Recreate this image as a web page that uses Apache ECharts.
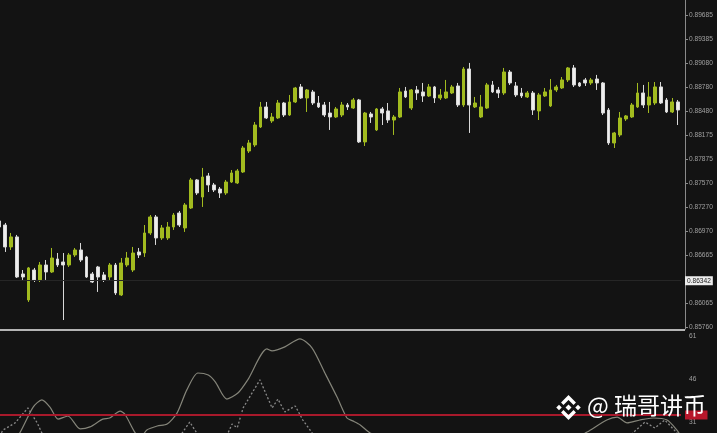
<!DOCTYPE html>
<html>
<head>
<meta charset="utf-8">
<script src="https://cdn.jsdelivr.net/npm/echarts@6/dist/echarts.min.js"></script>
<style>
html,body{margin:0;padding:0;background:#131313;}
#chart{width:717px;height:433px;}
</style>
</head>
<body>
<div id="chart"></div>
<script>
// ---- Candle data ----
const openP  = [0.87094,0.87043,0.86767,0.86893,0.86427,0.86100,0.86477,0.86352,0.86540,0.86452,
0.86616,0.86578,0.86540,0.86666,0.86729,0.86641,0.86427,0.86515,0.86415,0.86389,
0.86540,0.86163,0.86540,0.86477,0.86704,0.86691,0.86943,0.87144,0.86880,0.86880,
0.87018,0.87194,0.87006,0.87257,0.87610,0.87395,0.87660,0.87547,0.87496,0.87446,
0.87584,0.87572,0.87710,0.87974,0.88050,0.88276,0.88528,0.88352,0.88390,0.88578,
0.88427,0.88591,0.88780,0.88641,0.88717,0.88578,0.88553,0.88452,0.88402,0.88427,
0.88553,0.88515,0.88616,0.88088,0.88440,0.88239,0.88503,0.88478,0.88364,0.88402,
0.88729,0.88515,0.88742,0.88717,0.88666,0.88780,0.88641,0.88641,0.88704,0.88792,
0.88553,0.89006,0.88528,0.88402,0.88515,0.88805,0.88742,0.88704,0.88968,0.88792,
0.88704,0.88654,0.88704,0.88478,0.88666,0.88541,0.88742,0.88767,0.88868,0.89019,
0.88830,0.88868,0.88830,0.88880,0.88830,0.88490,0.88075,0.88176,0.88377,0.88402,
0.88528,0.88704,0.88553,0.88578,0.88780,0.88616,0.88465,0.88591];
const closeP = [0.87018,0.86767,0.86893,0.86389,0.86389,0.86503,0.86352,0.86540,0.86452,0.86628,
0.86540,0.86540,0.86666,0.86729,0.86603,0.86389,0.86326,0.86389,0.86352,0.86540,
0.86188,0.86565,0.86628,0.86691,0.86666,0.86943,0.87144,0.86880,0.87006,0.87018,
0.87169,0.87043,0.87295,0.87610,0.87446,0.87647,0.87547,0.87484,0.87446,0.87584,
0.87698,0.87723,0.88012,0.88075,0.88301,0.88528,0.88390,0.88402,0.88578,0.88427,
0.88591,0.88767,0.88641,0.88742,0.88578,0.88528,0.88427,0.88402,0.88503,0.88553,
0.88528,0.88616,0.88088,0.88452,0.88402,0.88503,0.88452,0.88364,0.88402,0.88717,
0.88654,0.88742,0.88704,0.88666,0.88780,0.88641,0.88679,0.88717,0.88780,0.88553,
0.89006,0.88553,0.88578,0.88528,0.88805,0.88717,0.88704,0.88968,0.88830,0.88679,
0.88666,0.88704,0.88490,0.88679,0.88717,0.88742,0.88780,0.88868,0.89019,0.88805,
0.88792,0.88830,0.88868,0.88830,0.88452,0.88075,0.88201,0.88390,0.88415,0.88553,
0.88704,0.88553,0.88654,0.88780,0.88578,0.88465,0.88591,0.88490];
const lowP   = [0.86981,0.86704,0.86729,0.86377,0.86352,0.86075,0.86326,0.86326,0.86352,0.86440,
0.86515,0.85848,0.86515,0.86641,0.86578,0.86377,0.86314,0.86201,0.86326,0.86352,
0.86163,0.86150,0.86515,0.86452,0.86628,0.86641,0.86918,0.86792,0.86855,0.86855,
0.86981,0.87018,0.86956,0.87245,0.87421,0.87270,0.87458,0.87458,0.87383,0.87421,
0.87572,0.87559,0.87698,0.87949,0.88025,0.88264,0.88377,0.88327,0.88377,0.88402,
0.88415,0.88578,0.88629,0.88465,0.88553,0.88515,0.88402,0.88239,0.88390,0.88402,
0.88490,0.88503,0.88075,0.88037,0.88327,0.88226,0.88301,0.88327,0.88176,0.88390,
0.88641,0.88490,0.88616,0.88591,0.88654,0.88578,0.88616,0.88629,0.88691,0.88528,
0.88528,0.88201,0.88515,0.88390,0.88503,0.88704,0.88641,0.88679,0.88805,0.88654,
0.88641,0.88641,0.88427,0.88364,0.88654,0.88528,0.88717,0.88754,0.88842,0.88780,
0.88780,0.88792,0.88805,0.88742,0.88427,0.88050,0.88012,0.88151,0.88352,0.88390,
0.88515,0.88515,0.88452,0.88553,0.88566,0.88452,0.88452,0.88301];
const highP  = [0.87119,0.87069,0.86943,0.86918,0.86477,0.86515,0.86503,0.86578,0.86603,0.86754,
0.86691,0.86691,0.86691,0.86754,0.86817,0.86654,0.86452,0.86528,0.86452,0.86565,
0.86565,0.86628,0.86704,0.86767,0.86754,0.87043,0.87169,0.87169,0.87043,0.87081,
0.87194,0.87220,0.87320,0.87635,0.87622,0.87761,0.87698,0.87572,0.87521,0.87610,
0.87735,0.87748,0.88037,0.88113,0.88339,0.88591,0.88591,0.88452,0.88616,0.88591,
0.88679,0.88780,0.88817,0.88754,0.88742,0.88666,0.88591,0.88591,0.88528,0.88591,
0.88578,0.88641,0.88629,0.88465,0.88465,0.88515,0.88528,0.88578,0.88427,0.88767,
0.88780,0.88754,0.88792,0.88830,0.88817,0.88792,0.88754,0.88868,0.88805,0.88830,
0.89031,0.89082,0.88654,0.88679,0.88830,0.88855,0.88780,0.89019,0.88993,0.88842,
0.88767,0.88729,0.88729,0.88704,0.88767,0.88880,0.88805,0.88905,0.89031,0.89056,
0.88842,0.88893,0.88893,0.88931,0.88842,0.88515,0.88214,0.88465,0.88427,0.88578,
0.88830,0.88805,0.88842,0.88842,0.88842,0.88641,0.88641,0.88616];

// price axis tick labels
const priceTicks = [0.89685,0.89385,0.89080,0.88780,0.88480,0.88175,0.87875,0.87570,0.87270,0.86970,0.86665,0.86065,0.85760];
const currentPrice = 0.86342;

// ---- Oscillator panel ----
const oscIdx = [1.5,3.5,5.8,7.3,8.7,10.1,11.8,13.9,15.6,17.8,19.0,20.8,21.6,23.4,24.3,25.4,27.2,28.9,30.6,32.3,34.2,36.0,37.2,39.2,41.1,42.8,46.1,47.0,49.2,51.8,53.9,56.1,58.2,59.9,60.9,62.2,63.9,70,80,90,98,101.3,104.7,106.5,108.2,110.4,112.7,115.1,116.8,117.5];
const oscVal = [22,27.2,36.2,38.7,36.2,32.0,33.1,28.6,29.3,32.0,32.4,34.8,33.8,27.2,25.5,28.2,29.6,30.3,34.1,42.2,48.1,47.4,45.0,39.0,41.1,45.7,56.5,55.8,57.2,60.0,56.8,48.1,39.7,32.4,31.4,30.0,27.2,22,20,21,24,27.5,31.7,32.7,30.7,31.7,32.4,31.7,28.2,26];
const sigIdx = [0.0,0.6,2.7,4.9,6.5,7.3,9,20,30,31.5,32.8,34.0,36,39.4,40.1,41.0,42.0,44.9,47.0,48.0,49.2,51.0,52.3,53.9,56,80,107,109.2,111.3,113.0,114.7,116.8,117.5];
const sigVal = [26,28.2,30.7,35.9,30.7,27.2,22,18,22,27.2,31.0,27.2,24,27.2,30.3,29.0,35.9,45.7,35.9,39.0,34.5,36.6,31.7,27.2,22,15,22,27.2,31.0,28.9,31.7,27.2,25];
const oscTicks = [61,46,31];
const oscLevel = 33.45;

// ---- build ----
const cats = openP.map((_, i) => String(i + 1));
const candles = openP.map((o, i) => [o, closeP[i], lowP[i], highP[i]]);
const oscData = oscIdx.map((x, i) => [x, oscVal[i]]);
const sigData = sigIdx.map((x, i) => [x, sigVal[i]]);

const GREEN = '#a2bb1f', WHITE = '#eeeeee';
const labelStyle = {color:'#a0a0a0', fontSize:6.6, fontFamily:'Liberation Sans', margin:4};

const chart = echarts.init(document.getElementById('chart'), null, {renderer:'canvas'});
const C = [568.5, 407.5], s = 12.5;
function P(x, y){ return [C[0] + x*s, C[1] + y*s]; }
function diamond(cx, cy, r){ return [P(cx, cy - r), P(cx + r, cy), P(cx, cy + r), P(cx - r, cy)]; }

chart.setOption({
  backgroundColor:'#131313',
  animation:false,
  grid:[
    {left:-3.4, right:36, top:0, height:329, outerBoundsMode:'none', containLabel:false},
    {left:-3.4, right:36, top:331, height:102, outerBoundsMode:'none', containLabel:false}
  ],
  xAxis:[
    {type:'category', data:cats, gridIndex:0, show:false, boundaryGap:true},
    {type:'value', gridIndex:1, min:-0.5, max:cats.length - 0.5, show:false}
  ],
  yAxis:[
    {type:'value', gridIndex:0, position:'right', offset:4, min:0.857348, max:0.898737, scale:true,
     axisLine:{show:true, lineStyle:{color:'#8a8a8a', width:1}},
     axisTick:{show:true, length:3, lineStyle:{color:'#8a8a8a'}, customValues:priceTicks},
     axisLabel:Object.assign({customValues:priceTicks, formatter:v => v.toFixed(5)}, labelStyle),
     splitLine:{show:false}},
    {type:'value', gridIndex:1, position:'right', offset:4, min:27.17, max:62.74,
     axisLine:{show:true, lineStyle:{color:'#8a8a8a', width:1}},
     axisTick:{show:false, customValues:oscTicks},
     axisLabel:Object.assign({customValues:oscTicks, formatter:v => String(v)}, labelStyle),
     splitLine:{show:false}}
  ],
  series:[
    {type:'line', xAxisIndex:0, yAxisIndex:0, data:[], showSymbol:false,
     markLine:{silent:true, symbol:'none', precision:5,
       lineStyle:{color:'#262626', width:1, type:'solid'},
       label:{position:'end', formatter:currentPrice.toFixed(5), backgroundColor:'#ececec', color:'#1a1a1a',
              fontSize:6.6, fontFamily:'Liberation Sans', padding:[1,2], distance:4},
       data:[{yAxis:currentPrice}]}
    },
    {type:'candlestick', xAxisIndex:0, yAxisIndex:0, data:candles, barWidth:3.4,
     itemStyle:{color:GREEN, color0:WHITE, borderColor:GREEN, borderColor0:'#d8d8d8', borderWidth:1}
    },
    {type:'line', xAxisIndex:1, yAxisIndex:1, data:oscData, showSymbol:false, smooth:0.25,
     lineStyle:{color:'#85857a', width:1.2}, clip:true,
     markLine:{silent:true, symbol:'none', precision:2,
       lineStyle:{color:'#a8192b', width:2, type:'solid'},
       label:{position:'end', formatter:oscLevel.toFixed(2), backgroundColor:'#b8172b', color:'#b8172b',
              fontSize:6.6, padding:[1,3], distance:4},
       data:[{yAxis:oscLevel}]}
    },
    {type:'line', xAxisIndex:1, yAxisIndex:1, data:sigData, showSymbol:false,
     lineStyle:{color:'#8a8a8a', width:1.3, type:[2,2]}, clip:true}
  ],
  graphic:[
    {type:'line', shape:{x1:0, y1:330, x2:685, y2:330}, style:{stroke:'#b4b4b4', lineWidth:2}, z:10},
    {type:'polyline', shape:{points:[P(-0.5,-0.3), P(0,-0.8), P(0.5,-0.3)]}, style:{stroke:'#ffffff', lineWidth:3.4, fill:null, lineJoin:'miter'}, z:20},
    {type:'polyline', shape:{points:[P(-0.5,0.3), P(0,0.8), P(0.5,0.3)]}, style:{stroke:'#ffffff', lineWidth:3.4, fill:null, lineJoin:'miter'}, z:20},
    {type:'polygon', shape:{points:diamond(-0.76,0,0.22)}, style:{fill:'#ffffff'}, z:20},
    {type:'polygon', shape:{points:diamond(0.76,0,0.22)}, style:{fill:'#ffffff'}, z:20},
    {type:'polygon', shape:{points:diamond(0,0,0.24)}, style:{fill:'#ffffff'}, z:20},
    {type:'text', left:587, top:394, z:20,
     style:{text:'@ 瑞哥讲币', fill:'#ffffff', font:'23px "Noto Sans CJK SC"', shadowColor:'rgba(0,0,0,0.5)', shadowBlur:2}}
  ]
});
</script>
</body>
</html>
